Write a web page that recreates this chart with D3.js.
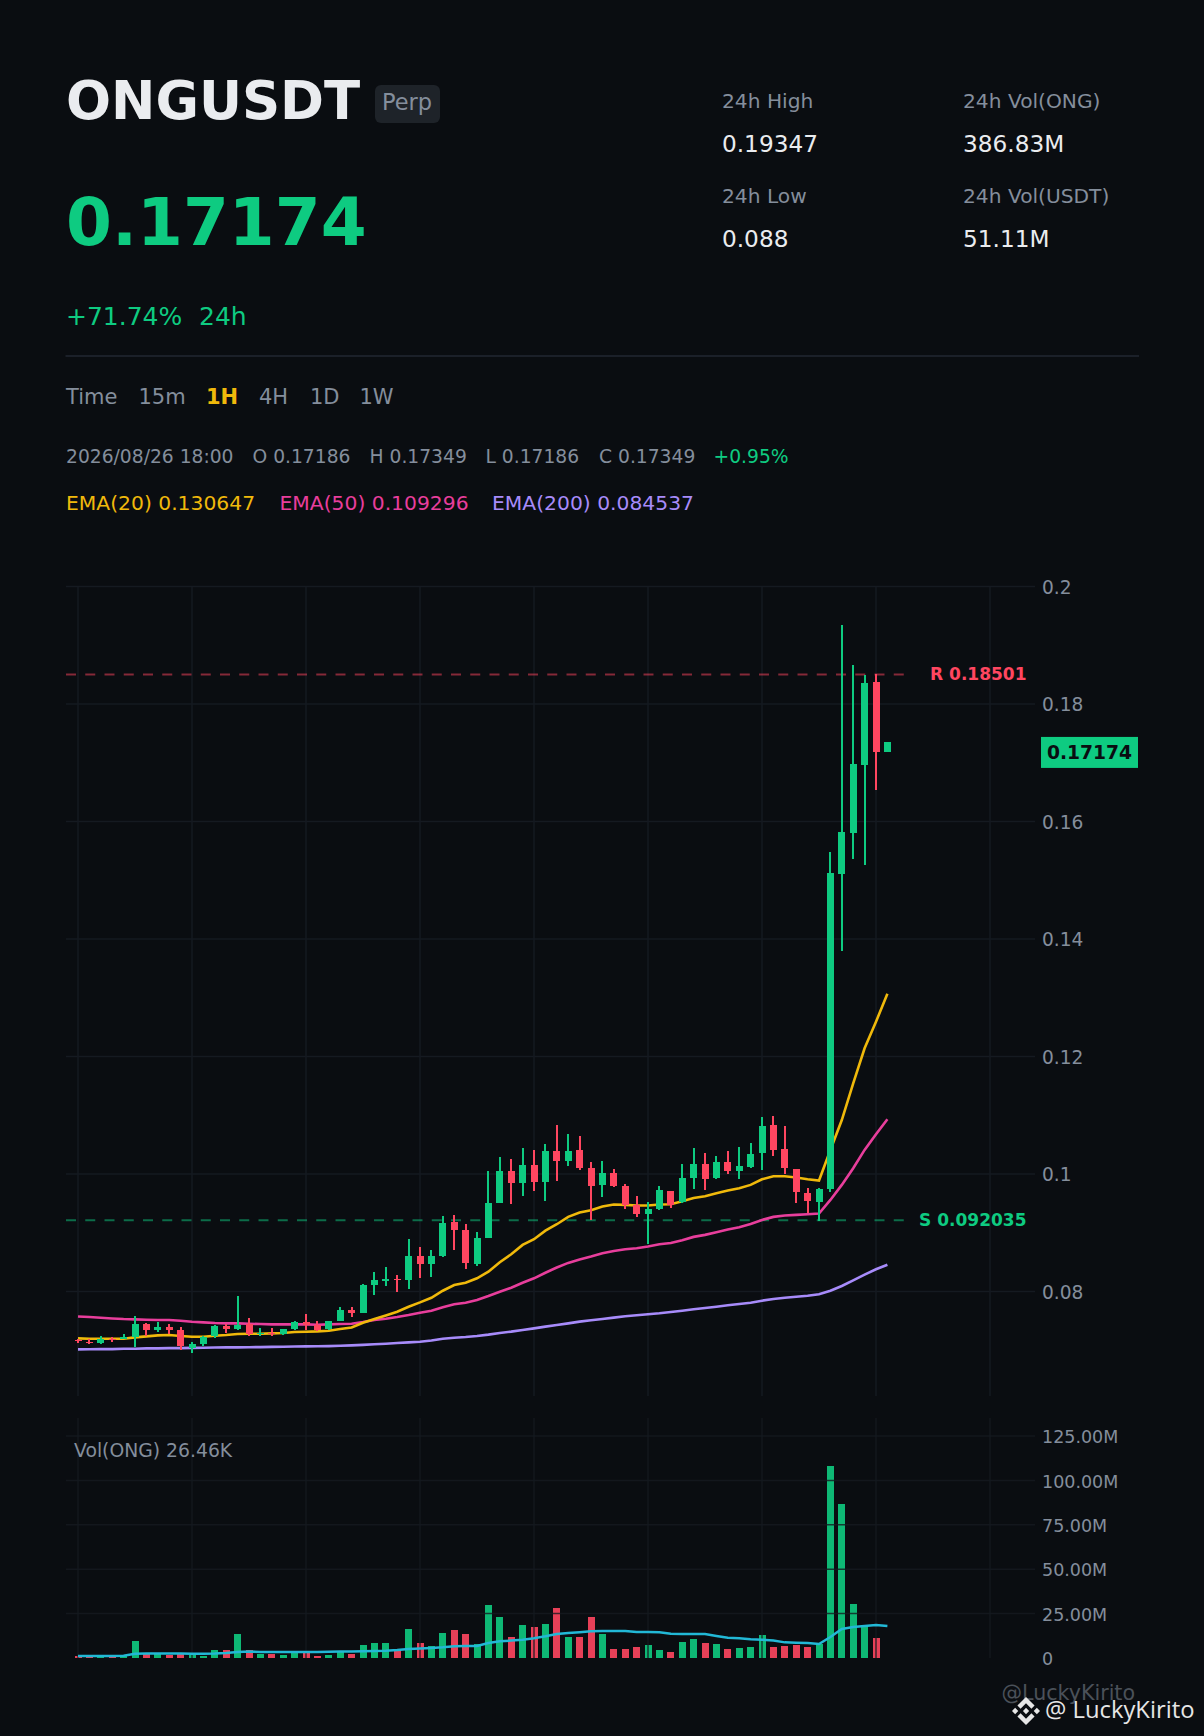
<!DOCTYPE html>
<html>
<head>
<meta charset="utf-8">
<script src="https://cdn.jsdelivr.net/npm/d3@7"></script>
<style>
  html, body { margin: 0; padding: 0; background: #0a0d11; }
  svg { display: block; }
  text { font-family: "DejaVu Sans", sans-serif; }
</style>
</head>
<body>
<svg id="chart" width="1204" height="1736"></svg>
<script>
// candles
const opens = [.07177,.07143,.07121,.07194,.07183,.07217,.07444,.07342,.07387,.07342,
  .07035,.07104,.0724,.0741,.07359,.07444,.07274,.07291,.07274,.07359,
  .07478,.07427,.07359,.07495,.07682,.07631,.08108,.08176,.0821,.08193,
  .08601,.08465,.08604,.09183,.09047,.08468,.08911,.09506,.10051,.09847,
  .10153,.09864,.10392,.10221,.10409,.10102,.09813,.1002,.09796,.09472,
  .09319,.09404,.09711,.09523,.09932,.1017,.09932,.10204,.10051,.10119,
  .10357,.10834,.10426,.10085,.09677,.09523,.09745,.15112,.1581,.16967,
  .1838,.17186];
const closes = [.07149,.07126,.07194,.07183,.07217,.07444,.07342,.07387,.07342,.07069,
  .07104,.07217,.0741,.07359,.07427,.07274,.07291,.07274,.07359,.07478,
  .07427,.07342,.07495,.07682,.07631,.08108,.08193,.0821,.08199,.08601,
  .08465,.08601,.09166,.09047,.08485,.08911,.09506,.10051,.09847,.10153,
  .09864,.10392,.10221,.10392,.10102,.09796,.1002,.09796,.09472,.09319,
  .09404,.09728,.09472,.09932,.1017,.09915,.10204,.10051,.10136,.1034,
  .10817,.10409,.10102,.09694,.0954,.09745,.15129,.15827,.16984,.18363,
  .17186,.17349];
const highs = [.07194,.07183,.07234,.07223,.07274,.0758,.07461,.07478,.07444,.07387,
  .07138,.0724,.07427,.07444,.07921,.07546,.07376,.07376,.07359,.07495,
  .07614,.07495,.07495,.07733,.07733,.08125,.08329,.08414,.08278,.08891,
  .08755,.08704,.09285,.09302,.09149,.09013,.10051,.10289,.10255,.10443,
  .10409,.10511,.10834,.10681,.10647,.10204,.10221,.10085,.0983,.09626,
  .09523,.09796,.09711,.1017,.10443,.10357,.10306,.10392,.1046,.10528,
  .1097,.10987,.10817,.10085,.09762,.09762,.15486,.1935,.1867,.18499,
  .18501,.17349];
const lows = [.07121,.07104,.07104,.07138,.07183,.07047,.0724,.07308,.07274,.07001,
  .0695,.07069,.07206,.07291,.07342,.0724,.0724,.0724,.07257,.07342,
  .07342,.07325,.07342,.07495,.07563,.07631,.07938,.08091,.07989,.0804,
  .08227,.08244,.08587,.08706,.08383,.08434,.08911,.09506,.09489,.09626,
  .09711,.0954,.09881,.10136,.10068,.09217,.09608,.09779,.09404,.09268,
  .08808,.09387,.09421,.09506,.09745,.09728,.09915,.1,.09915,.10102,
  .10068,.10306,.1,.09506,.0933,.09206,.09694,.1379,.15367,.15265,
  .16542,.17186];

// indicator lines
const ema20 = [.072,.07194,.07194,.07194,.07194,.07217,.07234,.07251,.07257,.0724,
  .07228,.07228,.07245,.07257,.07274,.07279,.07279,.07285,.07291,.07308,
  .07313,.07319,.0733,.07359,.07387,.07467,.07529,.07591,.07654,.07739,
  .07813,.07892,.08011,.08109,.08148,.08223,.08335,.08496,.08633,.08791,
  .08888,.09035,.09143,.09268,.09342,.09382,.09444,.09478,.09472,.09461,
  .09461,.09478,.09484,.09535,.09591,.0962,.09671,.09716,.09756,.09813,
  .09909,.0996,.0996,.09938,.09909,.09887,.10407,.10917,.11542,.12138,
  .1259,.130647];
const ema50 = [.07574,.07563,.07552,.0754,.07529,.07523,.07518,.07512,.07512,.07501,
  .07484,.07472,.07461,.07455,.07455,.0745,.07444,.07438,.07438,.07438,
  .07438,.07433,.07438,.07444,.0745,.07478,.07512,.07535,.07563,.07597,
  .07637,.07671,.07729,.0778,.07808,.07854,.07922,.07995,.08063,.08148,
  .08223,.08318,.08406,.08485,.08542,.08593,.0865,.08689,.08718,.08735,
  .08763,.08803,.08825,.08871,.08928,.08962,.09007,.09052,.09092,.09149,
  .09217,.09268,.09291,.09302,.09313,.09325,.09557,.09813,.10096,.10409,
  .10675,.109296];
const ema200 = [.07013,.07015,.07018,.07018,.07024,.07024,.0703,.0703,.07035,.07035,
  .07038,.07041,.07044,.07047,.07047,.0705,.07052,.07055,.07058,.07061,
  .07064,.07067,.07069,.07075,.07081,.07089,.07101,.07109,.07121,.07132,
  .07143,.07165,.07195,.07212,.07224,.07241,.07264,.07292,.07315,.07343,
  .07371,.074,.07428,.07456,.07485,.07508,.0753,.07553,.07576,.07593,
  .0761,.07627,.07649,.07672,.07695,.07717,.0774,.07763,.07786,.07808,
  .07842,.07871,.07893,.0791,.07927,.0795,.08012,.08092,.08188,.08285,
  .08376,.084537];

// volume in millions
const volumes = [1.1,.9,.9,.9,1.5,9.6,2.25,2.6,1.7,2.6,
  1.7,1.1,4.5,4.5,13.5,4.5,2.25,2.25,1.7,3.4,
  3.9,1.1,1.7,3.9,2.25,7.3,8.4,8.4,5.1,16.3,
  8.4,6.8,14.1,15.8,13.5,7.9,29.8,23.1,11.8,18.6,
  17.5,19.1,28.2,11.8,11.8,23.1,13.5,5.1,5.1,6.2,
  7.3,4.5,3.4,9,10.7,8.4,7.9,5.1,5.6,6.2,
  13,6.2,6.8,7.3,6.2,7.9,108.1,86.7,30.4,18,
  11.3,.026];
const volMa = [1.1,1.1,1.1,1.1,1.3,2.4,2.6,2.6,2.6,2.5,
  2.4,2.4,2.5,2.8,3.4,3.6,3.4,3.4,3.4,3.4,
  3.4,3.4,3.5,3.6,3.7,3.75,3.9,4.1,4.5,5.1,
  5.3,5.6,6,6.6,6.8,6.8,8.4,9.4,9.8,10.3,
  11.1,12.2,13.5,14.1,14.5,15,15.2,15.2,15.2,14.6,
  14.6,14.5,13.7,13.5,13.5,13.5,12.4,11.4,11.1,10.5,
  10.3,9.8,8.8,8.6,8.4,7.9,11.8,16.3,17.4,18,
  18.6,18];

// ticks
const priceTicks = [0.2, 0.18, 0.16, 0.14, 0.12, 0.1, 0.08];
const volTicks = [125, 100, 75, 50, 25, 0];
const gridBars = [0, 10, 20, 30, 40, 50, 60, 70, 80];

const resistance = 0.18501;
const support = 0.092035;
const lastPrice = 0.17174;

const GREEN = '#0ecb81', RED = '#ff4660', GREY = '#848e9c', GRID = '#151a21';

const svg = d3.select('#chart');
svg.append('rect').attr('width', 1204).attr('height', 1736).attr('fill', '#0a0d11');

// scales
const x = d3.scaleLinear().domain([0, 71]).range([78, 887.4]);
const y = d3.scaleLinear().domain([0.08, 0.2]).range([1291.4, 586.4]);
const yVol = d3.scaleLinear().domain([0, 125]).range([1658, 1436]);

function label(px, py, str, size, fill, weight, anchor) {
  return svg.append('text')
    .attr('x', px).attr('y', py)
    .attr('font-size', size).attr('fill', fill)
    .attr('font-weight', weight || 'normal')
    .attr('text-anchor', anchor || 'start')
    .text(str);
}

// header
label(66, 119, 'ONGUSDT', 53, '#eaecef', 'bold');
svg.append('rect').attr('x', 375).attr('y', 85).attr('width', 65).attr('height', 38)
  .attr('rx', 6).attr('fill', '#1e2329');
label(382, 110, 'Perp', 22.5, GREY);
label(66, 245, '0.17174', 66, GREEN, 'bold');
label(66, 325, '+71.74%', 25, GREEN);
label(199, 325, '24h', 25, GREEN);

label(722, 107.5, '24h High', 20.2, GREY);
label(722, 151.5, '0.19347', 23.2, '#eaecef');
label(722, 203, '24h Low', 20.2, GREY);
label(722, 246.5, '0.088', 23.2, '#eaecef');
label(963, 107.5, '24h Vol(ONG)', 20.2, GREY);
label(963, 151.5, '386.83M', 23.2, '#eaecef');
label(963, 203, '24h Vol(USDT)', 20.2, GREY);
label(963, 246.5, '51.11M', 23.2, '#eaecef');

svg.append('line').attr('x1', 65.5).attr('x2', 1139).attr('y1', 356).attr('y2', 356)
  .attr('stroke', '#1b2029').attr('stroke-width', 2);

// timeframe tabs
label(66, 403.5, 'Time', 21, GREY);
label(138.5, 403.5, '15m', 21, GREY);
label(206, 403.5, '1H', 21, '#f0b90b', 'bold');
label(259, 403.5, '4H', 21, GREY);
label(310, 403.5, '1D', 21, GREY);
label(359.5, 403.5, '1W', 21, GREY);

// ohlc line
label(66, 463, '2026/08/26 18:00', 18.7, GREY);
label(252.5, 463, 'O 0.17186', 18.7, GREY);
label(369.5, 463, 'H 0.17349', 18.7, GREY);
label(485.5, 463, 'L 0.17186', 18.7, GREY);
label(599, 463, 'C 0.17349', 18.7, GREY);
label(713.5, 463, '+0.95%', 18.7, GREEN);

label(66, 510, 'EMA(20) 0.130647', 20.3, '#f0b90b');
label(279.5, 510, 'EMA(50) 0.109296', 20.3, '#e83e9c');
label(492, 510, 'EMA(200) 0.084537', 20.3, '#a78bfa');

// price grid
const gridLayer = svg.append('g').attr('stroke', GRID).attr('stroke-width', 1.5);
gridLayer.selectAll('line.h').data(priceTicks).join('line')
  .attr('x1', 66).attr('x2', 1035)
  .attr('y1', d => y(d)).attr('y2', d => y(d));
gridLayer.selectAll('line.v').data(gridBars).join('line')
  .attr('x1', d => x(d)).attr('x2', d => x(d))
  .attr('y1', 587).attr('y2', 1396);

// price axis
const priceAxis = svg.append('g')
  .attr('transform', 'translate(1032,1)')
  .call(d3.axisRight(y).tickValues(priceTicks).tickFormat(d => String(d)).tickSize(0).tickPadding(10));
priceAxis.select('.domain').remove();
priceAxis.selectAll('text').attr('font-size', 18.6).attr('fill', GREY)
  .attr('font-family', '"DejaVu Sans", sans-serif');

// support and resistance
svg.append('line').attr('x1', 66).attr('x2', 904)
  .attr('y1', y(resistance)).attr('y2', y(resistance))
  .attr('stroke', RED).attr('stroke-opacity', .5).attr('stroke-width', 2).attr('stroke-dasharray', '10 9.25');
svg.append('line').attr('x1', 66).attr('x2', 904)
  .attr('y1', y(support) - .5).attr('y2', y(support) - .5)
  .attr('stroke', GREEN).attr('stroke-opacity', .5).attr('stroke-width', 2).attr('stroke-dasharray', '10 9.25');
label(1026.5, y(resistance) + 5.5, 'R 0.18501', 17, RED, 'bold', 'end');
label(1026.5, y(support) + 5, 'S 0.092035', 17, GREEN, 'bold', 'end');

// ema lines, under the candles
const priceLine = d3.line().x((d, i) => x(i)).y(d => y(d));
[[ema200, '#a78bfa'], [ema50, '#e83e9c'], [ema20, '#f0b90b']].forEach(([s, c]) => {
  svg.append('path').attr('d', priceLine(s))
    .attr('fill', 'none').attr('stroke', c).attr('stroke-width', 2.6);
});

// candles
const idx = d3.range(opens.length);
const colorOf = i => closes[i] >= opens[i] ? GREEN : RED;
const candles = svg.append('g').attr('shape-rendering', 'crispEdges');
candles.selectAll('rect.wick').data(idx).join('rect')
  .attr('class', 'wick')
  .attr('x', i => x(i) - 1).attr('width', 2)
  .attr('y', i => y(highs[i]))
  .attr('height', i => y(lows[i]) - y(highs[i]))
  .attr('fill', colorOf);
candles.selectAll('rect.body').data(idx).join('rect')
  .attr('class', 'body')
  .attr('x', i => x(i) - 3.5).attr('width', 7)
  .attr('y', i => y(Math.max(opens[i], closes[i])))
  .attr('height', i => Math.max(1, Math.abs(y(opens[i]) - y(closes[i]))))
  .attr('fill', colorOf);

// last price tag
svg.append('rect').attr('x', 1041).attr('y', y(lastPrice) - 15.5).attr('width', 97).attr('height', 31)
  .attr('fill', GREEN);
label(1089.5, y(lastPrice) + 6.5, '0.17174', 18.7, '#0a0d11', 'bold', 'middle');

// volume panel
svg.append('g').selectAll('rect').data(idx).join('rect')
  .attr('x', i => x(i) - 3.5).attr('width', 7)
  .attr('y', i => yVol(volumes[i]))
  .attr('height', i => yVol(0) - yVol(volumes[i]))
  .attr('fill', colorOf).attr('opacity', .9)
  .attr('shape-rendering', 'crispEdges');

const volGrid = svg.append('g').attr('stroke', GRID).attr('stroke-opacity', .8).attr('stroke-width', 1.5);
volGrid.selectAll('line.h').data(volTicks.filter(d => d > 0)).join('line')
  .attr('x1', 66).attr('x2', 1035)
  .attr('y1', d => yVol(d)).attr('y2', d => yVol(d));
volGrid.selectAll('line.v').data(gridBars).join('line')
  .attr('x1', d => x(d)).attr('x2', d => x(d))
  .attr('y1', 1418).attr('y2', 1658);

svg.append('path')
  .attr('d', d3.line().x((d, i) => x(i)).y(d => yVol(d))(volMa))
  .attr('fill', 'none').attr('stroke', '#22b8d6').attr('stroke-width', 2.5);

const volAxis = svg.append('g')
  .attr('transform', 'translate(1032,1)')
  .call(d3.axisRight(yVol).tickValues(volTicks)
    .tickFormat(d => d === 0 ? '0' : d.toFixed(2) + 'M').tickSize(0).tickPadding(10));
volAxis.select('.domain').remove();
volAxis.selectAll('text').attr('font-size', 17.5).attr('fill', GREY)
  .attr('font-family', '"DejaVu Sans", sans-serif');

label(74, 1456.5, 'Vol(ONG) 26.46K', 18.8, GREY);

// watermark
label(1001.5, 1699.5, '@LuckyKirito', 20.6, '#4b5159');
svg.append('path')
  .attr('transform', 'translate(1012,1697) scale(.875)')
  .attr('fill', '#e6e6e6')
  .attr('d', 'M9.8 13.4L16 7.2l6.2 6.2 3.6-3.6L16 0 6.2 9.8l3.6 3.6zM0 16l3.6-3.6L7.2 16l-3.6 3.6L0 16zm9.8 2.6L16 24.8l6.2-6.2 3.6 3.6L16 32l-9.8-9.8 3.6-3.6zM24.8 16l3.6-3.6L32 16l-3.6 3.6-3.6-3.6zM19.6 16L16 12.4 13.4 15l-.3.3-.6.6L16 19.6l3.6-3.6z');
label(1045, 1718, '@ LuckyKirito', 23.8, '#e6e6e6').style('font-family', '"Open Sans", sans-serif');
</script>
</body>
</html>
